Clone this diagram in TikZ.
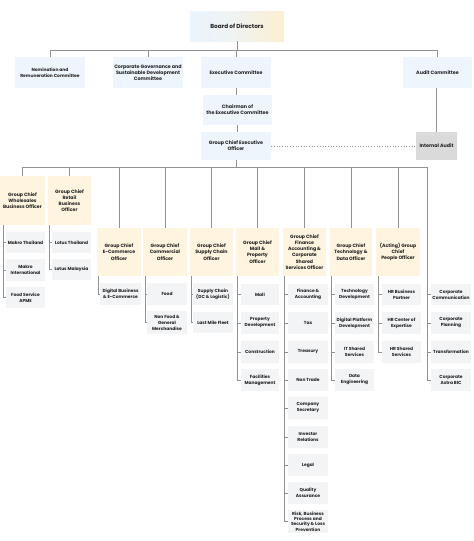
\documentclass[tikz,border=0pt]{standalone}
\usepackage{fontspec}
\setmainfont{Poppins}
\definecolor{cblue}{HTML}{EEF5FD}
\definecolor{cyel}{HTML}{FEF4DF}
\definecolor{csub}{HTML}{F3F4F6}
\definecolor{cgrey}{HTML}{DADADA}
\definecolor{cline}{HTML}{929292}
\definecolor{txt}{HTML}{222222}
\definecolor{gradl}{HTML}{EAF4FD}
\definecolor{gradr}{HTML}{FDEFD2}
\tikzset{
  bx/.style={rectangle, inner sep=0pt, align=center, text=txt,
    font=\fontsize{4.4}{6}\selectfont\bfseries},
  blu/.style={bx, fill=cblue, font=\fontsize{4.8}{6}\selectfont\bfseries},
  yel/.style={bx, fill=cyel, font=\fontsize{4.7}{6.2}\selectfont\bfseries},
  sub/.style={bx, fill=csub},
  gry/.style={bx, fill=cgrey, font=\fontsize{4.8}{6}\selectfont\bfseries},
  grad/.style={bx, left color=gradl, right color=gradr, middle color=gradl!70!gradr,
    font=\fontsize{5.8}{7}\selectfont\bfseries},
  ln/.style={draw=cline, line width=0.7pt},
  dln/.style={draw=cline, line width=0.7pt, dotted},
}
\newcommand\obox[7]{\node[#6, minimum width={#4pt-#2pt}, minimum height={#5pt-#3pt}] (#1) at ({(#2+#4)/2},{(#3+#5)/2}) {#7};}
\begin{document}
\begin{tikzpicture}[x=1pt,y=-1pt]
\useasboundingbox (0,0) rectangle (474,541);
% top level
\obox{bod}{190}{11}{284}{41}{grad}{Board of Directors}
\obox{nom}{15}{57}{85}{88}{blu, font=\fontsize{4.4}{6}\selectfont\bfseries}{Nomination and\\Remuneration Committee}
\obox{cg}{113}{57}{183}{88}{blu}{Corporate Governance and\\Sustainable Development\\Committee}
\obox{exe}{201}{57}{271}{88}{blu}{Executive Committee}
\obox{aud}{403}{57}{472}{88}{blu}{Audit Committee}
\obox{chair}{203}{95}{272}{125}{blu}{Chairman of\\the Executive Committee}
\obox{gceo}{201}{132}{271}{160}{blu}{Group Chief Executive\\Officer}
\obox{ia}{416}{132}{457}{160}{gry}{Internal Audit}
% officers
\obox{whole}{0}{176}{45}{225}{yel}{Group Chief\\Wholesales\\Business Officer}
\obox{retail}{48}{176}{91}{225}{yel}{Group Chief\\Retail\\Business\\Officer}
\obox{ecom}{97}{228}{141}{276}{yel}{Group Chief\\E-Commerce\\Officer}
\obox{comm}{143}{228}{187}{276}{yel}{Group Chief\\Commercial\\Officer}
\obox{sc}{190}{228}{233}{276}{yel}{Group Chief\\Supply Chain\\Officer}
\obox{mall}{236}{228}{279}{276}{yel}{Group Chief\\Mall \&\\Property\\Officer}
\obox{fin}{283}{228}{326}{276}{yel}{Group Chief\\Finance\\Accounting \&\\Corporate\\Shared\\Services Officer}
\obox{tech}{330}{228}{372}{276}{yel}{Group Chief\\Technology \&\\Data Officer}
\obox{ppl}{376}{228}{420}{276}{yel}{(Acting) Group\\Chief\\People Officer}
% subs
\obox{mt}{6}{232}{45}{253}{sub}{Makro Thailand}
\obox{mi}{6}{259}{45}{281}{sub}{Makro\\International}
\obox{fsa}{6}{287}{45}{308}{sub}{Food Service\\APME}
\obox{lt}{52}{232}{91}{253}{sub}{Lotus Thailand}
\obox{lm}{52}{259}{91}{280}{sub}{Lotus Malaysia}
\obox{dbe}{100}{283}{141}{305}{sub}{Digital Business\\\& E-Commerce}
\obox{food}{147}{283}{187}{305}{sub}{Food}
\obox{nonfood}{147}{311}{187}{334}{sub}{Non Food \&\\General\\Merchandise}
\obox{scl}{193}{283}{233}{305}{sub}{Supply Chain\\(DC \& Logistic)}
\obox{lmf}{193}{312}{233}{333}{sub}{Last Mile Fleet}
\obox{mallb}{241}{284}{279}{305}{sub}{Mall}
\obox{prop}{241}{312}{279}{334}{sub}{Property\\Development}
\obox{cons}{241}{341}{279}{363}{sub}{Construction}
\obox{fac}{241}{369}{279}{391}{sub}{Facilities\\Management}
\obox{fa}{288}{284}{328}{305}{sub}{Finance \&\\Accounting}
\obox{tax}{288}{312}{328}{334}{sub}{Tax}
\obox{trs}{288}{341}{328}{363}{sub}{Treasury}
\obox{ntr}{288}{369}{328}{391}{sub}{Non Trade}
\obox{cos}{288}{397}{328}{419}{sub}{Company\\Secretary}
\obox{ir}{288}{426}{328}{448}{sub}{Investor\\Relations}
\obox{legal}{288}{454}{328}{476}{sub}{Legal}
\obox{qa}{288}{482}{328}{504}{sub}{Quality\\Assurance}
\obox{risk}{288}{510}{328}{533}{sub, font=\fontsize{4.4}{5.3}\selectfont\bfseries}{Risk, Business\\Process and\\Security \& Loss\\Prevention}
\obox{td}{335}{284}{374}{305}{sub}{Technology\\Development}
\obox{dpd}{335}{312}{374}{334}{sub}{Digital Platform\\Development}
\obox{its}{335}{341}{374}{363}{sub}{IT Shared\\Services}
\obox{de}{335}{369}{374}{391}{sub}{Data\\Engineering}
\obox{hrbp}{382}{284}{421}{305}{sub}{HR Business\\Partner}
\obox{hrce}{382}{312}{421}{334}{sub}{HR Center of\\Expertise}
\obox{hrss}{382}{341}{421}{363}{sub}{HR Shared\\Services}
\obox{cc}{431}{284}{471}{305}{sub}{Corporate\\Communication}
\obox{cp}{431}{312}{471}{334}{sub}{Corporate\\Planning}
\obox{tf}{431}{341}{471}{363}{sub}{Transformation}
\obox{cab}{431}{369}{471}{391}{sub}{Corporate\\Axtra BIC}
% top connectors
\coordinate (b1) at (237,50);
\draw[ln] (bod.south) -- (bod.south |- b1);
\draw[ln] (nom.north) |- (aud.north |- b1) -- (aud.north);
\draw[ln] (cg.north) -- (cg.north |- b1);
\draw[ln] (exe.north) -- (exe.north |- b1);
\draw[ln] (exe.south) -- (exe.south |- chair.north);
\draw[ln] (chair.south) -- (chair.south |- gceo.north);
\draw[ln] (aud.south -| ia.north) -- (ia.north);
\draw[dln] (gceo.east) -- (ia.west);
% officer bus
\coordinate (c2) at (427,167);
\draw[ln] (gceo.south) -- (gceo.south |- c2);
\draw[ln] (whole.north) |- (c2) |- (cab.west);
\foreach \n in {retail,ecom,comm,sc,mall,fin,tech,ppl}
  \draw[ln] (\n.north) -- (\n.north |- c2);
\foreach \n in {cc,cp,tf}
  \draw[ln] (\n.west) -- (\n.west -| c2);
% spines
\newcommand\spine[4]{%
  \draw[ln] (#1.south -| #2,0) |- (#3.west);
  \foreach \n in {#4} \draw[ln] (\n.west) -- (\n.west -| #2,0);}
\spine{whole}{3}{fsa}{mt,mi}
\spine{retail}{49}{lm}{lt}
\spine{ecom}{98}{dbe}{dbe}
\spine{comm}{145}{nonfood}{food}
\spine{sc}{191}{lmf}{scl}
\spine{mall}{237}{fac}{mallb,prop,cons}
\spine{fin}{284}{risk}{fa,tax,trs,ntr,cos,ir,legal,qa}
\spine{tech}{331}{de}{td,dpd,its}
\spine{ppl}{378}{hrss}{hrbp,hrce}
\end{tikzpicture}
\end{document}
